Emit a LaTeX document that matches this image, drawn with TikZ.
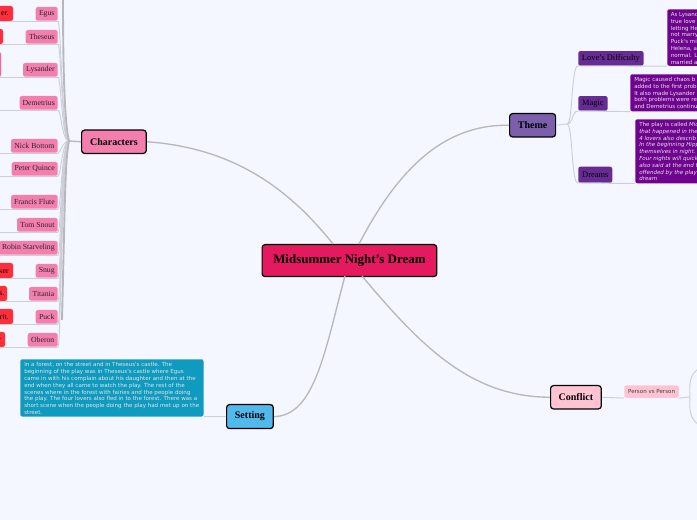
\documentclass[tikz,border=0pt]{standalone}
\usepackage{fontspec}
\setmainfont{Liberation Serif}
\newfontfamily\smallfont{DejaVu Sans}
\definecolor{pagebg}{HTML}{F4F7FF}
\definecolor{linegray}{HTML}{CDCFD8}
\definecolor{trunkgray}{HTML}{B8B8BC}
\definecolor{rootred}{HTML}{E5195F}
\definecolor{charpink}{HTML}{F47FAF}
\definecolor{notered}{HTML}{FF2E3C}
\definecolor{themeviolet}{HTML}{7B5FAC}
\definecolor{subviolet}{HTML}{672C94}
\definecolor{notepurple}{HTML}{6F038F}
\definecolor{settingblue}{HTML}{52B9EC}
\definecolor{noteblue}{HTML}{0F9ABF}
\definecolor{conflictpink}{HTML}{FFC4D2}
\tikzset{
  main/.style={draw=black,line width=0.9pt,rounded corners=2.2pt,font=\bfseries,text=black,inner sep=0pt,anchor=north west},
  person/.style={fill=charpink,rounded corners=1.6pt,font=\fontsize{5.8}{7}\selectfont,text=black!85,anchor=south east,inner sep=0pt,minimum height=10.3pt},
  topic/.style={fill=subviolet,rounded corners=1.6pt,font=\fontsize{6.3}{8}\selectfont,text=black,anchor=south west,inner sep=0pt,minimum height=11pt},
  note/.style={rounded corners=1.6pt,text=white!88!black,inner sep=0pt,anchor=north west},
  smalltext/.style={font=\smallfont\fontsize{4.15}{5.1}\selectfont,align=left,text=white!90!black},
  twig/.style={draw=linegray,line width=0.7pt},
  trunk/.style={draw=trunkgray,line width=1pt}
}
\begin{document}
\begin{tikzpicture}[x=0.75pt,y=-0.75pt]
  \useasboundingbox (0,0) rectangle (697,520);
  \clip (0,0) rectangle (697,520);
  \fill[pagebg] (0,0) rectangle (697,520);

  % main topics
  \node[main,fill=rootred,minimum width=131pt,minimum height=24pt,font=\bfseries\fontsize{9.7}{11}\selectfont] (root) at (261.5,244) {Midsummer Night's Dream};
  \node[main,fill=charpink,minimum width=48.5pt,minimum height=17.5pt,font=\bfseries\fontsize{7.5}{9}\selectfont] (characters) at (81,129.5) {Characters};
  \node[main,fill=themeviolet,minimum width=34.5pt,minimum height=17.5pt,font=\bfseries\fontsize{7.5}{9}\selectfont] (theme) at (509,113) {Theme};
  \node[main,fill=settingblue,minimum width=35pt,minimum height=18pt,font=\bfseries\fontsize{7.5}{9}\selectfont] (setting) at (226,404) {Setting};
  \node[main,fill=conflictpink,minimum width=38pt,minimum height=17.5pt,font=\bfseries\fontsize{7.5}{9}\selectfont] (conflict) at (550,385) {Conflict};

  \coordinate (charhub) at (69,141);
  \coordinate (themehub) at (567,124);

  % left side
  \node[person,minimum width=16.5pt] (egus) at (58,21) {Egus};
  \node[person,minimum width=24pt] (theseus) at (58,44) {Theseus};
  \node[person,minimum width=26pt] (lysander) at (58,77) {Lysander};
  \node[person,minimum width=28.5pt] (demetrius) at (58,110) {Demetrius};
  \node[person,minimum width=35pt] (bottom) at (58,153) {Nick Bottom};
  \node[person,minimum width=34.5pt] (quince) at (58,176) {Peter Quince};
  \node[person,minimum width=35pt] (flute) at (58,209) {Francis Flute};
  \node[person,minimum width=30.5pt] (snout) at (58,232) {Tom Snout};
  \node[person,minimum width=44pt] (starveling) at (58,255) {Robin Starveling};
  \node[person,minimum width=16.5pt] (snug) at (58,278) {Snug};
  \node[person,minimum width=21.5pt] (titania) at (58,301) {Titania};
  \node[person,minimum width=16.5pt] (puck) at (58,324) {Puck};
  \node[person,minimum width=22.5pt] (oberon) at (58,347) {Oberon};

  % notes cut off by the left edge
  \fill[notered,rounded corners=1.6pt] (-10,6) rectangle (13,21);
  \node[anchor=east,font=\fontsize{5.8}{7}\selectfont,inner sep=0pt] (egusnote) at (9,13.5) {er.};
  \fill[notered,rounded corners=1.6pt] (-10,29) rectangle (3,44);
  \fill[charpink!70!notered,rounded corners=1.6pt] (-10,52) rectangle (1,77);
  \fill[notered,rounded corners=1.6pt] (-10,263) rectangle (13,278);
  \node[anchor=east,font=\fontsize{5.8}{7}\selectfont,inner sep=0pt] (snugnote) at (9,270.5) {ker};
  \fill[notered,rounded corners=1.6pt] (-10,286) rectangle (7,301);
  \node[anchor=east,font=\fontsize{5.8}{7}\selectfont,inner sep=0pt] (titanote) at (4.5,293.5) {s.};
  \fill[notered,rounded corners=1.6pt] (-10,309) rectangle (13,324);
  \node[anchor=east,font=\fontsize{5.8}{7}\selectfont,inner sep=0pt] (pucknote) at (9,316.5) {rit.};
  \fill[notered,rounded corners=1.6pt] (-10,332) rectangle (5,347);
  \node[anchor=east,font=\fontsize{5.8}{7}\selectfont,inner sep=0pt] (oberonnote) at (1.5,339.5) {.};

  % twigs under the people
  \foreach \who in {egus,theseus,lysander,demetrius,bottom,quince,flute,snout,starveling,snug,titania,puck,oberon}{
    \draw[twig] (\who.south east) -- ++(-62,0);
    \draw[twig] (\who.south east) .. controls (61,0 |- \who.south east) and (62,141) .. (charhub);
  }
  \draw[trunk,line width=1.4pt] (63,-5) .. controls (63,80) and (65,125) .. (charhub);
  \draw[trunk,line width=1.4pt] (62,320) .. controls (65,200) and (65,160) .. (charhub);
  \draw[trunk] (characters.west) -- (charhub);

  % right side
  \node[topic,minimum width=49pt] (love) at (578,66) {Love's Difficulty};
  \node[topic,minimum width=22pt] (magic) at (578,111) {Magic};
  \node[topic,minimum width=25.5pt,minimum height=12pt] (dreams) at (578,183) {Dreams};

  \node[note,fill=notepurple,minimum width=50pt,minimum height=42.4pt,smalltext] (lovenote) at (667,9) {};
  \node[smalltext,anchor=north west,inner sep=0pt] (lovetext) at (670.5,12) {As Lysand\\true love\\letting He\\not marry\\Puck's mi\\Helena, a\\normal. L\\married a};
  \node[note,fill=notepurple,minimum width=75pt,minimum height=27.8pt] (magicnote) at (630,74) {};
  \node[smalltext,anchor=north west,inner sep=0pt] (magictext) at (634,77) {Magic caused chaos b\\added to the first prob\\It also made Lysander\\both problems were re\\and Demetrius continu};
  \node[note,fill=notepurple,minimum width=70pt,minimum height=48pt] (dreamnote) at (635,119) {};
  \node[smalltext,anchor=north west,inner sep=0pt] (dreamtext) at (639,122) {The play is called {\itshape Mic}\\\itshape that happened in the\\\itshape 4 lovers also describ\\\itshape In the beginning Hipp\\\itshape themselves in night.\\\itshape Four nights will quick\\\itshape also said at the end t\\\itshape offended by the play\\\itshape dream};

  \draw[twig] (theme.east) -- (themehub);
  \draw[twig] (themehub) .. controls (573,124) and (571,66) .. (love.south west) -- (lovenote.south west);
  \draw[twig] (themehub) .. controls (573,124) and (572,111) .. (magic.south west) -- (magicnote.south west);
  \draw[twig] (themehub) .. controls (573,124) and (571,183) .. (dreams.south west) -- (dreamnote.south west);

  % setting and conflict
  \node[note,fill=noteblue,minimum width=137.5pt,minimum height=43pt] (settingnote) at (20,359) {};
  \node[smalltext,anchor=north west,inner sep=0pt] (settingtext) at (24,362.5) {In a forest, on the street and in Theseus's castle. The\\beginning of the play was in Theseus's castle where Egus\\came in with his complain about his daughter and then at the\\end when they all came to watch the play. The rest of the\\scenes where in the forest with fairies and the people doing\\the play. The four lovers also fled in to the forest. There was a\\short scene when the people doing the play had met up on the\\street.};
  \draw[twig] (settingnote.south east) -- (setting.west |- settingnote.south east);

  \node[fill=conflictpink,rounded corners=1.6pt,inner sep=0pt,minimum width=41pt,minimum height=9.4pt,anchor=north west,font=\smallfont\fontsize{4.15}{5}\selectfont,text=black!75] (person) at (624,385) {Person vs Person};
  \coordinate (conflicthub) at (690,397);
  \draw[twig] (conflict.east) -- (person.south west);
  \draw[twig] (person.south east) -- (conflicthub);
  \draw[twig] (conflicthub) .. controls (689,380) and (690,372) .. (705,365);
  \draw[twig] (conflicthub) .. controls (689,412) and (690,422) .. (705,428);

  % links from the centre
  \draw[trunk] (characters.east) .. controls (235,148) and (290,190) .. (333,244);
  \draw[trunk] (theme.west) .. controls (440,124) and (395,175) .. (359,244);
  \draw[trunk] (setting.east) .. controls (315,416) and (325,350) .. (345,276);
  \draw[trunk] (conflict.west) .. controls (470,397) and (420,345) .. (362,276);
\end{tikzpicture}
\end{document}
